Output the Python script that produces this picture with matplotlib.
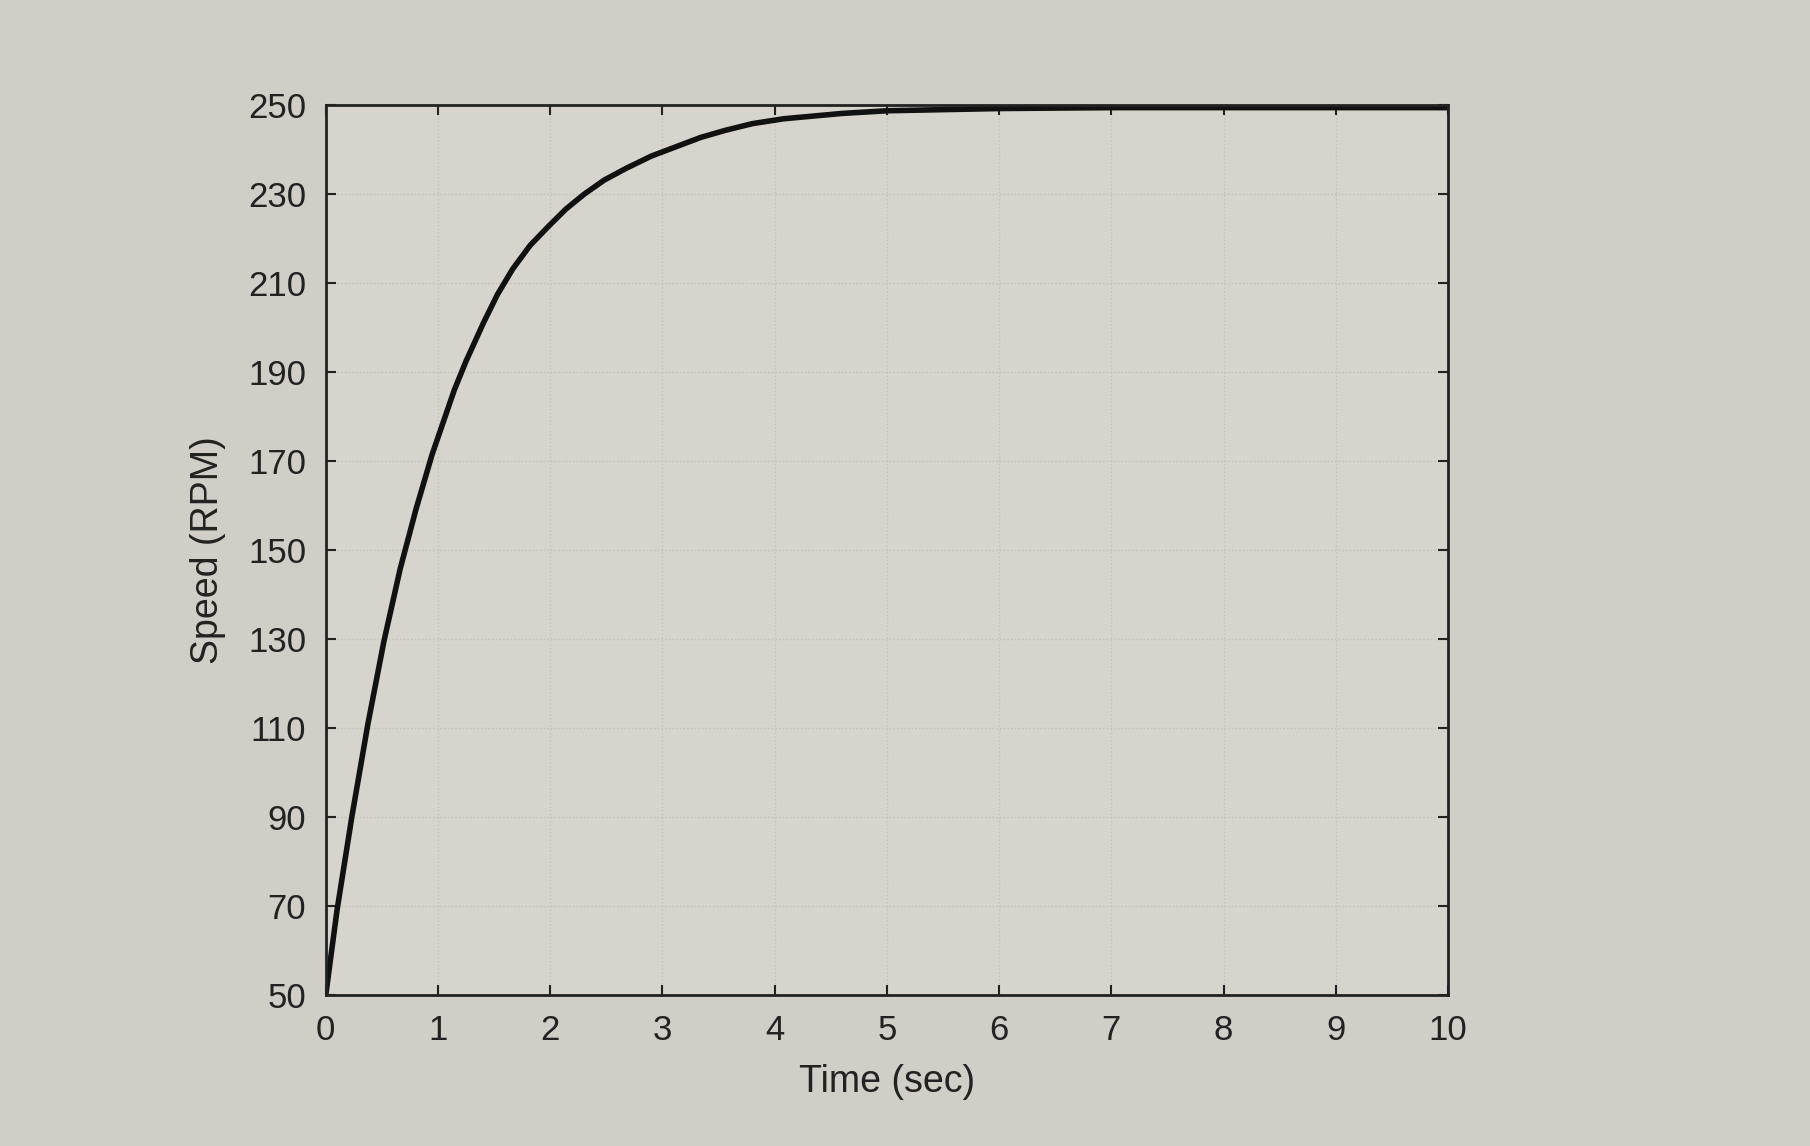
import matplotlib
matplotlib.use("Agg")
import matplotlib.pyplot as plt

time_sec = [0, 0.1, 0.232, 0.376, 0.518, 0.663, 0.804, 0.946, 1.145, 1.25,
            1.403, 1.53, 1.665, 1.82, 1.98, 2.14, 2.30, 2.48, 2.68, 2.9,
            3.12, 3.34, 3.56, 3.8, 4.08, 4.6, 5.0, 6.0, 7.0, 8.0, 9.0, 10.0]
speed_rpm = [50, 69, 90, 111, 129.5, 145.8, 159.2, 171.4, 186.0, 192.5,
             201.0, 207.5, 213.2, 218.5, 222.7, 226.7, 230.0, 233.2, 235.9, 238.6,
             240.7, 242.8, 244.4, 245.9, 247.0, 248.2, 248.8, 249.3, 249.5, 249.5, 249.5, 249.5]
x_ticks = list(range(0, 11))
y_ticks = list(range(50, 251, 20))

plt.rcParams['font.family'] = ['Liberation Sans', 'DejaVu Sans']

fig = plt.figure(figsize=(18.10, 11.46), dpi=100)
fig.patch.set_facecolor('#d0cec7')
ax = fig.add_axes([0.180, 0.132, 0.62, 0.776])
ax.set_facecolor('#d6d4cd')

ax.plot(time_sec, speed_rpm, color='#111111', linewidth=4.0,
        solid_joinstyle='round', solid_capstyle='round')

ax.set_xlim(0, 10)
ax.set_ylim(50, 250)
ax.set_xticks(x_ticks)
ax.set_yticks(y_ticks)
ax.grid(True, linestyle=':', color='#c2c0b9', linewidth=1.0)
ax.tick_params(direction='in', length=7, width=1.5, labelsize=25, colors='#222222', pad=14,
               top=True, right=True)
for s in ax.spines.values():
    s.set_linewidth(2)
    s.set_color('#222222')

ax.set_xlabel('Time (sec)', fontsize=27, color='#222222', labelpad=12)
ax.set_ylabel('Speed (RPM)', fontsize=27, color='#222222', labelpad=16)

fig.savefig('out.png', dpi=100, facecolor=fig.get_facecolor())
